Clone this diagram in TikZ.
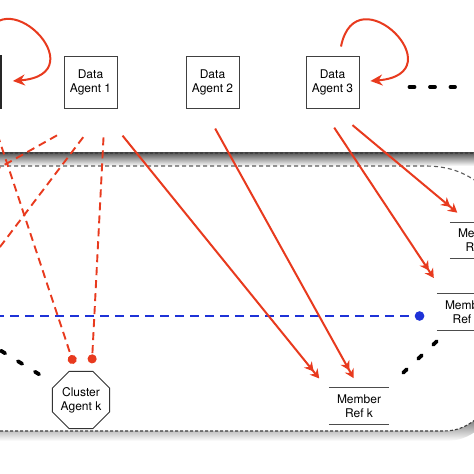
\documentclass[tikz,border=0pt]{standalone}
\usepackage{fontspec}
\setmainfont{TeX Gyre Heros}
\usepackage{xcolor}
\usepackage{tikz}
\usetikzlibrary{shapes.geometric,arrows.meta,positioning}

\definecolor{agentred}{RGB}{232,58,30}
\definecolor{linkblue}{RGB}{30,50,215}

\begin{document}
\begin{tikzpicture}[x=1pt, y=1pt,
    agent/.style={rectangle, draw=black!75, line width=0.9pt, minimum width=53pt, minimum height=52pt, inner sep=1pt, align=center, font=\fontsize{12}{14}\selectfont},
    cluster/.style={regular polygon, regular polygon sides=8, draw=black!80, line width=0.9pt, minimum size=58.5pt, inner sep=0pt, align=center, font=\fontsize{12}{14}\selectfont},
    memberref/.style={rectangle, minimum width=60pt, minimum height=36pt, inner sep=0pt, align=center, font=\fontsize{12}{14}\selectfont},
    refline/.style={draw=black!70, line width=1pt},
    flow/.style={agentred, line width=2pt, -{Stealth[length=9pt,width=10pt]Stealth[length=9pt,width=10pt]}},
    selfloop/.style={agentred, line width=2pt, -{Stealth[length=12pt,width=11pt]}},
    link/.style={agentred, line width=1.9pt, dash pattern=on 8pt off 5pt, -{Circle[length=9pt]}},
    bluelink/.style={linkblue, line width=1.8pt, dash pattern=on 9pt off 6pt, -{Circle[length=9.5pt]}},
    etc/.style={line width=3.8pt, line cap=round, dash pattern=on 5pt off 15.5pt},
    rim/.style={black!75, line width=1.1pt, dash pattern=on 3pt off 2pt}
]
    \useasboundingbox (0,0) rectangle (474,474);
    \clip (0,0) rectangle (474,474);

    % Rahmen der Gruppe mit Schatten
    \shade[top color=black!65, bottom color=white] (0,308) rectangle (474,321);
    \shade[top color=black!60, bottom color=white] (0,43) -- (444,43) .. controls (458,43) and (468,48) .. (480,58)
        -- (480,46) .. controls (468,36) and (458,33) .. (444,33) -- (0,33) -- cycle;
    \draw[rim] (0,321) -- (474,321);
    \draw[rim, black!65, dash pattern=on 4pt off 3pt] (0,308) -- (425,308) .. controls (448,308) and (464,302) .. (480,290);
    \draw[rim] (0,43) -- (444,43) .. controls (458,43) and (468,48) .. (480,58);

    % Datenagenten
    \node[agent, draw=black!85, line width=1.8pt] (a0) at (-25.5,392) {};
    \node[agent] (a1) at (90.5,392) {Data\\Agent 1};
    \node[agent] (a2) at (212.5,392) {Data\\Agent 2};
    \node[agent] (a3) at (332.5,392) {Data\\Agent 3};
    \draw[etc] (409.5,387) -- (455,387);

    % Cluster und Mitgliedsreferenzen
    \node[cluster] (ck) at (81,74) {Cluster\\Agent k};
    \node[memberref] (ref1) at (480,233.5) {Member\\Ref 1};
    \node[memberref] (ref2) at (467,162) {Member\\Ref 2};
    \node[memberref] (refk) at (359,68) {Member\\Ref k};
    \foreach \r in {ref1,ref2,refk} {
        \draw[refline] (\r.north west) -- (\r.north east);
        \draw[refline] (\r.south west) -- (\r.south east);
    }
    \draw[etc, dash pattern=on 5pt off 15pt] (0.9,123.3) -- (39.1,99.7);
    \draw[etc, dash pattern=on 5pt off 15.5pt] (403.2,101.3) -- (436.8,132.7);

    % Koordinaten ausserhalb des Bildes
    \coordinate (outa) at (-60,273);
    \coordinate (outb) at (-60,148);
    \coordinate (outc) at (-20,158);

    % blaue Verbindung
    \draw[bluelink, shorten >=12.5pt] (outc) -- ([yshift=-4pt]ref2.west);

    % gestrichelte Verbindungen zum Cluster
    \draw[link, -, shorten <=55pt] ([xshift=14.5pt]a1.south) -- (outa);
    \draw[link, -, shorten <=36pt] ([xshift=14.5pt]a1.south) -- (outb);
    \draw[link, shorten <=29pt, shorten >=7.5pt] ([xshift=14.5pt]a1.south) -- ([xshift=10.5pt]ck.north);
    \draw[link, shorten <=27pt, shorten >=7.5pt] ([xshift=14.5pt]a0.south) -- ([xshift=-5pt]ck.north);

    % Datenfluss
    \draw[flow, shorten <=35pt, shorten >=12pt] ([xshift=10pt]a1.south) -- ([xshift=-2pt]refk.north west);
    \draw[flow, shorten <=23pt, shorten >=11pt] ([xshift=-8.5pt]a2.south) -- (refk.north);
    \draw[flow, shorten <=23pt, shorten >=19pt] ([xshift=-11pt]a3.south) -- ([xshift=7.5pt]ref2.north west);
    \draw[flow, shorten <=26pt, shorten >=15pt] (a3.south) -- ([xshift=19pt]ref1.north west);

    % Schleifen
    \draw[selfloop] ([shift={(8.5,9)}]a0.north) .. controls +(15,75) and +(87,7) .. ([shift={(11,1)}]a0.east);
    \draw[selfloop] ([shift={(8.5,9)}]a3.north) .. controls +(15,75) and +(87,7) .. ([shift={(11,1)}]a3.east);
\end{tikzpicture}
\end{document}
